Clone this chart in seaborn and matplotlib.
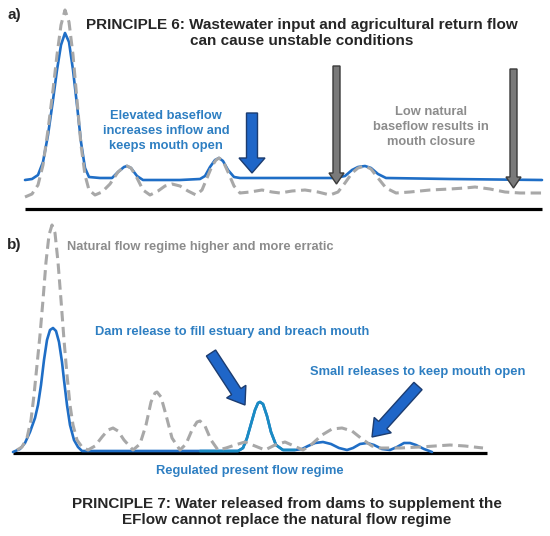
import matplotlib.pyplot as plt
import numpy as np
import pandas as pd
import seaborn as sns

# values: x = time (px across), y = level (px from top)
A_BASE = 209
B_BASE = 453

a_nat_x = [25, 32, 38, 43, 48, 53, 57, 61, 65, 69, 73, 77, 81, 85, 89, 95, 102, 110, 118, 124,
           127, 131, 137, 143, 150, 158, 165, 172, 180, 188, 196, 202, 207, 212, 216, 219, 223,
           228, 234, 240, 250, 262, 272, 280, 292, 305, 318, 330, 338, 345, 352, 358, 365, 371,
           378, 386, 396, 410, 430, 450, 465, 475, 490, 505, 520, 542]
a_nat_y = [197, 194, 185, 165, 130, 90, 55, 25, 10, 22, 55, 100, 145, 175, 190, 195, 192, 184, 172, 167,
           166, 168, 178, 190, 195, 191, 186, 184, 186, 191, 195, 190, 178, 166, 160, 158, 161,
           172, 186, 193, 192, 190, 192, 193, 191, 190, 192, 195, 192, 183, 173, 168, 166, 169,
           178, 188, 193, 192, 190, 189, 188, 187, 189, 192, 193, 193]

a_cur_x = [25, 32, 38, 43, 48, 53, 57, 61, 65, 69, 73, 77, 81, 85, 89, 100, 112, 118, 124, 127,
           131, 137, 143, 160, 180, 200, 205, 210, 215, 219, 223, 228, 234, 240, 300, 335, 345,
           352, 358, 365, 371, 378, 386, 450, 542]
a_cur_y = [180, 179, 175, 162, 135, 100, 70, 45, 33, 42, 70, 105, 142, 168, 177, 178, 178, 172, 167, 166,
           168, 176, 180, 180, 180, 179, 176, 167, 160, 158, 161, 170, 177, 178, 178, 178, 176,
           170, 167, 166, 168, 174, 178, 179, 180]

b_nat_x = [17, 22, 27, 31, 34, 37, 40, 43, 46, 49, 52, 55, 58, 61, 64, 67, 70, 73, 77, 82, 88,
           95, 102, 108, 113, 118, 124, 133, 140, 146, 151, 155, 157, 161, 166, 172, 180, 186,
           192, 197, 200, 205, 211, 218, 226, 235, 245, 255, 265, 275, 285, 294, 303, 312, 322,
           332, 342, 352, 362, 372, 380, 400, 420, 435, 450, 465, 483]
b_nat_y = [450, 447, 438, 420, 395, 365, 335, 300, 262, 235, 225, 233, 262, 300, 340, 375, 405, 425, 440, 447, 450,
           446, 437, 430, 428, 431, 440, 450, 444, 425, 402, 393, 392, 397, 415, 438, 450, 444,
           430, 422, 421, 426, 440, 450, 448, 445, 442, 446, 450, 445, 442, 446, 450, 444, 435,
           429, 428, 431, 439, 446, 448, 448, 447, 446, 445, 446, 448]

b_reg_x = [13, 20, 25, 30, 35, 38, 41, 44, 47, 50, 53, 56, 59, 62, 64, 67, 70, 74, 78, 82, 120,
           160, 200, 238, 243, 247, 251, 255, 258, 260, 263, 267, 271, 276, 283, 295, 302, 308,
           315, 323, 331, 339, 347, 353, 360, 367, 374, 382, 390, 397, 404, 410, 416, 424, 432]
b_reg_y = [452, 449, 443, 432, 418, 405, 385, 360, 340, 330, 328, 331, 342, 362, 380, 405, 425, 440, 447, 451, 451,
           451, 451, 451, 448, 438, 424, 410, 403, 402, 404, 416, 432, 445, 450, 450, 449, 446,
           443, 442, 444, 448, 450, 448, 444, 443, 445, 449, 450, 447, 443, 443, 445, 449, 452]

BLUE = '#1f6ec6'
TEAL = '#1a8cc4'
GRAY = '#a8a8a8'
TXT_BLUE = '#2e7fc2'
TXT_GRAY = '#8c8c8c'

sns.set_style('white')
plt.rcParams['font.family'] = ['Liberation Sans', 'DejaVu Sans']

fig = plt.figure(figsize=(5.5, 5.36), dpi=100)
ax_a = fig.add_axes([0, 1 - 215 / 536, 1, 215 / 536])
ax_b = fig.add_axes([0, 0, 1, 321 / 536])
ax_a.set_xlim(0, 550)
ax_a.set_ylim(A_BASE - 215, A_BASE)
ax_b.set_xlim(0, 550)
ax_b.set_ylim(B_BASE - 536, B_BASE - 215)

df_a_nat = pd.DataFrame({'t': a_nat_x, 'q': A_BASE - np.array(a_nat_y)})
df_a_cur = pd.DataFrame({'t': a_cur_x, 'q': A_BASE - np.array(a_cur_y)})
df_b_nat = pd.DataFrame({'t': b_nat_x, 'q': B_BASE - np.array(b_nat_y)})
df_b_reg = pd.DataFrame({'t': b_reg_x, 'q': B_BASE - np.array(b_reg_y)})

dash = (0, (3.4, 1.8))

# panel a
ax_a.plot([25, 542], [0, 0], color='black', lw=2.3, solid_capstyle='butt')
sns.lineplot(data=df_a_cur, x='t', y='q', ax=ax_a, sort=False, color=BLUE, lw=1.9)
sns.lineplot(data=df_a_nat, x='t', y='q', ax=ax_a, sort=False, color=GRAY, lw=2.2, linestyle=dash)
ax_a.arrow(252, 96, 0, -60, width=11, head_width=26, head_length=15, length_includes_head=True,
           fc='#1f66c8', ec='#1c3c70', lw=1, zorder=5)
for gx, gtop, gtip in [(336.5, 143, 25), (513.5, 140, 21)]:
    ax_a.arrow(gx, gtop, 0, gtip - gtop, width=7, head_width=15, head_length=11,
               length_includes_head=True, fc='#7a7a7a', ec='#3a3a3a', lw=1, zorder=5)

ax_a.text(7, 194, 'a)', fontsize=11, fontweight='bold', va='center')
ax_a.text(302, 176, 'PRINCIPLE 6: Wastewater input and agricultural return flow\ncan cause unstable conditions',
          fontsize=11, fontweight='bold', ha='center', va='center', linespacing=1.2)
ax_a.text(166, 78, 'Elevated baseflow\nincreases inflow and\nkeeps mouth open', color=TXT_BLUE,
          fontsize=9.3, fontweight='bold', ha='center', va='center', linespacing=1.3)
ax_a.text(431, 82, 'Low natural\nbaseflow results in\nmouth closure', color=TXT_GRAY,
          fontsize=9.3, fontweight='bold', ha='center', va='center', linespacing=1.3)

# panel b
ax_b.plot([13, 487], [0, 0], color='black', lw=2.3, solid_capstyle='butt')
sns.lineplot(data=df_b_reg, x='t', y='q', ax=ax_b, sort=False, color=BLUE, lw=1.9)
dam = df_b_reg[(df_b_reg['t'] >= 200) & (df_b_reg['t'] <= 295)]
sns.lineplot(data=dam, x='t', y='q', ax=ax_b, sort=False, color=TEAL, lw=1.9)
sns.lineplot(data=df_b_nat, x='t', y='q', ax=ax_b, sort=False, color=GRAY, lw=2.2, linestyle=dash)
ax_b.arrow(211, 100, 34, -52, width=11, head_width=23, head_length=16, length_includes_head=True,
           fc='#1f66c8', ec='#1c3c70', lw=1, zorder=5)
ax_b.arrow(418, 67, -46, -51, width=11, head_width=23, head_length=16, length_includes_head=True,
           fc='#1f66c8', ec='#1c3c70', lw=1, zorder=5)

ax_b.text(7, 208, 'b)', fontsize=11, fontweight='bold', va='center')
ax_b.text(67, 206, 'Natural flow regime higher and more erratic', color=TXT_GRAY,
          fontsize=9.3, fontweight='bold', va='center')
ax_b.text(95, 121, 'Dam release to fill estuary and breach mouth', color=TXT_BLUE,
          fontsize=9.3, fontweight='bold', va='center')
ax_b.text(310, 81, 'Small releases to keep mouth open', color=TXT_BLUE,
          fontsize=9.3, fontweight='bold', va='center')
ax_b.text(250, -18, 'Regulated present flow regime', color=TXT_BLUE,
          fontsize=9.3, fontweight='bold', ha='center', va='center')
ax_b.text(287, -59, 'PRINCIPLE 7: Water released from dams to supplement the\nEFlow cannot replace the natural flow regime',
          fontsize=11, fontweight='bold', ha='center', va='center', linespacing=1.2)

for ax in (ax_a, ax_b):
    ax.set_axis_off()

fig.savefig('out.png', dpi=100)
